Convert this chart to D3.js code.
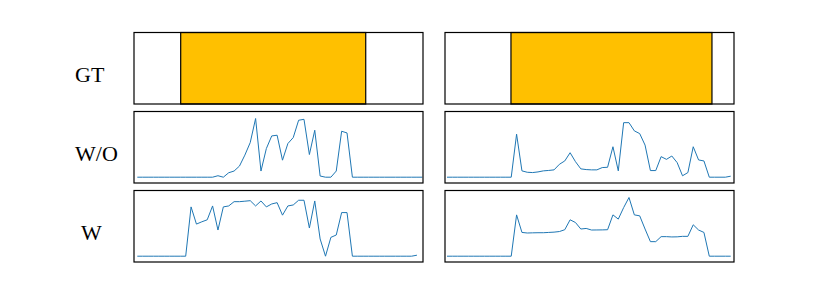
<!DOCTYPE html>
<html>
<head>
<meta charset="utf-8">
<script src="https://cdn.jsdelivr.net/npm/d3@7"></script>
<style>
  body { margin: 0; background: #fff; }
  svg { display: block; }
</style>
</head>
<body>
<div id="chart"></div>
<script>
// row labels, top to bottom
const ROW_LABELS = ["GT", "W/O", "W"];

// ground-truth segments, in snippet index units
const gtLeft = [8.07, 42.48];
const gtRight = [11.95, 49.5];

// per-snippet scores, left video
const woLeft = [0,0,0,0,0,0,0,0,0,0,0,0,0,0,0,0.025,0,0.076,0.105,0.19,0.376,0.59,1.0,0.105,0.488,0.703,0.715,0.29,0.573,0.675,0.97,0.986,0.386,0.8,0.02,0,0,0.105,0.783,0.754,0,0,0,0,0,0,0,0,0,0,0,0,0,0];
const wLeft = [0,0,0,0,0,0,0,0,0,0,0.84,0.547,0.586,0.62,0.856,0.446,0.84,0.856,0.929,0.929,0.937,0.946,0.856,0.941,0.84,0.89,0.912,0.699,0.856,0.873,0.953,0.953,0.48,0.941,0.294,0,0.321,0.361,0.743,0.743,0,0,0,0,0,0,0,0,0,0,0,0,0.017];

// per-snippet scores, right video
const woRight = [0,0,0,0,0,0,0,0,0,0,0,0,0,0.733,0.108,0.084,0.079,0.09,0.108,0.115,0.125,0.22,0.277,0.417,0.265,0.142,0.13,0.125,0.125,0.164,0.169,0.519,0.108,0.929,0.929,0.789,0.743,0.547,0.113,0.113,0.35,0.304,0.361,0.248,0.024,0.079,0.519,0.294,0.277,0,0,0,0,0.017];
const wRight = [0,0,0,0,0,0,0,0,0,0,0,0,0,0.704,0.405,0.395,0.398,0.40,0.40,0.405,0.41,0.42,0.451,0.62,0.574,0.463,0.473,0.446,0.447,0.448,0.451,0.704,0.632,0.828,1.0,0.704,0.688,0.463,0.248,0.248,0.333,0.333,0.328,0.33,0.338,0.338,0.535,0.446,0.405,0,0,0,0,0];

const N_SNIPPETS = 53; // last index

// layout
const W = 830, H = 299;
const panelW = 289, panelH = 71.5;
const colX = [134, 445];
const rowY = [32.5, 111.5, 190.5];
const LINE_COLOR = "#1f77b4";
const GT_COLOR = "#ffc000";

const svg = d3.select("#chart").append("svg")
  .attr("width", W)
  .attr("height", H);

// x scales per column (line starts a few px inside the left border)
const xScales = [
  d3.scaleLinear().domain([0, N_SNIPPETS]).range([137.3, 422.3]),
  d3.scaleLinear().domain([0, N_SNIPPETS]).range([447, 730.7])
];

// y scale per row: 0 sits near the bottom border, 1 near the top
function yScale(row) {
  return d3.scaleLinear().domain([0, 1]).range([rowY[row] + panelH - 5.8, rowY[row] + 7]);
}

const gts = [gtLeft, gtRight];
const series = [[woLeft, woRight], [wLeft, wRight]];

// GT row
gts.forEach((seg, c) => {
  const x = xScales[c];
  svg.append("rect")
    .attr("x", x(seg[0]))
    .attr("y", rowY[0])
    .attr("width", x(seg[1]) - x(seg[0]))
    .attr("height", panelH)
    .attr("fill", GT_COLOR)
    .attr("stroke", "#000")
    .attr("stroke-width", 1.2);
});

// score rows
series.forEach((pair, r) => {
  const y = yScale(r + 1);
  pair.forEach((vals, c) => {
    const x = xScales[c];
    const line = d3.line()
      .x((d, i) => x(i))
      .y(d => y(d));
    svg.append("path")
      .datum(vals)
      .attr("d", line)
      .attr("fill", "none")
      .attr("stroke", LINE_COLOR)
      .attr("stroke-width", 1);
  });
});

// panel frames
rowY.forEach(ry => {
  colX.forEach(cx => {
    svg.append("rect")
      .attr("x", cx)
      .attr("y", ry)
      .attr("width", panelW)
      .attr("height", panelH)
      .attr("fill", "none")
      .attr("stroke", "#000")
      .attr("stroke-width", 1.2);
  });
});

// row labels
const labelX = [75, 75, 81];
svg.selectAll("text.row")
  .data(ROW_LABELS)
  .join("text")
  .attr("class", "row")
  .attr("x", (d, i) => labelX[i])
  .attr("y", (d, i) => rowY[i] + 49.5)
  .attr("font-family", "'Liberation Serif', 'Times New Roman', serif")
  .attr("font-size", 22)
  .attr("fill", "#000")
  .text(d => d);
</script>
</body>
</html>
